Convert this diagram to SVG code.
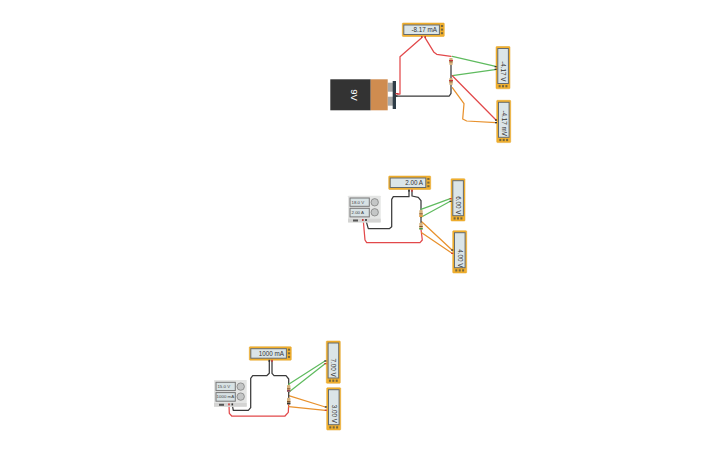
<svg xmlns="http://www.w3.org/2000/svg" width="725" height="453" viewBox="0 0 725 453">
<style>
.w{fill:none;stroke-width:1.25;stroke-linejoin:round;stroke-linecap:round}
.r{stroke:#e2484a}.k{stroke:#3a3a3a}.g{stroke:#5fbb5f}.o{stroke:#e8912d}
.case{fill:#f2b02e;stroke:#e0a024;stroke-width:.5}
.lcd{fill:#dbe5e8;stroke:#666c6e;stroke-width:1}
.btn{fill:#77683c}
.t{font-family:"Liberation Sans",Arial,sans-serif;font-size:6.3px;fill:#333}
.st{font-family:"Liberation Sans",Arial,sans-serif;font-size:4.4px;fill:#444}
.psu{fill:#e4e5e4}.psd{fill:#d8e2e4;stroke:#777;stroke-width:1}
.psb{fill:#d4d4d3}.knob{fill:#c4c6c6;stroke:#777;stroke-width:.7}
.res{fill:#d6b27c}
.tr{fill:#c8383a}.tk{fill:#333}
</style>
<defs>
<g id="mh"><rect class="case" x="0" y="0" width="42" height="13.5" rx=".8"/><rect class="lcd" x="1.5" y="2" width="35.6" height="9.5"/><rect class="btn" x="38.6" y="2" width="2.2" height="2"/><rect class="btn" x="38.6" y="5.6" width="2.2" height="2"/><rect class="btn" x="38.6" y="9.2" width="2.2" height="2"/></g>
<g id="mv"><rect class="case" x="0" y="0" width="14" height="42.3" rx=".8"/><rect class="lcd" x="1.8" y="2" width="10.6" height="35"/><rect class="btn" x="2.6" y="38.6" width="2" height="2.2"/><rect class="btn" x="6" y="38.6" width="2" height="2.2"/><rect class="btn" x="9.4" y="38.6" width="2" height="2.2"/></g>
<g id="psu"><rect class="psu" x="0" y="0" width="32.7" height="26.7" rx=".6"/><rect class="psb" x="0" y="23" width="32.7" height="3.7"/><rect class="psd" x="2" y="2.3" width="19.3" height="8.3"/><rect class="psd" x="2" y="12.6" width="19.3" height="8.6"/><circle class="knob" cx="26.7" cy="6.6" r="3.7"/><circle class="knob" cx="26.7" cy="16.6" r="3.7"/><rect x="5" y="23.8" width="5" height="2" fill="#555"/></g>
<g id="resistor"><rect class="res" x="-1.7" y="0" width="3.4" height="7" rx=".8"/><rect x="-1.7" y="3.4" width="3.4" height=".9" fill="#7a4a25"/></g>
</defs>

<g id="connectors">
<polyline class="w r" points="397.7,94 400,94 400,56.7 421.7,37.7"/>
<polyline class="w r" points="425,37.7 434,52.3 436.7,54.3 451,56.3"/>
<polyline class="w g" points="452.3,56.3 496.7,66.7"/>
<polyline class="w g" points="452.3,75.7 496.7,69.3"/>
<polyline class="w k" points="451,64.3 451,78"/>
<polyline class="w k" points="396,96 449.3,96 451,93.3 451,85"/>
<polyline class="w r" points="452.3,75.7 496,120"/>
<polyline class="w o" points="452.3,87.7 464,103.7 462.7,119 466.7,121 496,122.7"/>

<polyline class="w k" points="366,220.7 368.3,228.7 389.3,228.7 391.7,226.7 391.7,199.3 393.3,196.7 409,196.7 409,190.7"/>
<polyline class="w k" points="412,190.7 412,196 418.3,197.3 421,200.7 421,210"/>
<polyline class="w r" points="363.3,220.7 365,240 366.7,242.7 420,242.7 422.3,240 421,229.3"/>
<polyline class="w g" points="421,209.3 450.3,198.7"/>
<polyline class="w g" points="421,217.3 450.3,201.3"/>
<polyline class="w o" points="421.7,221.7 452,250"/>
<polyline class="w o" points="421.7,232.7 452,253.3"/>
<polyline class="w k" points="421,216.7 421,222.7"/>

<polyline class="w k" points="232.3,405 233.3,410.3 248.3,410.3 250.7,407.7 250.7,378.3 252.7,375.7 266.7,375.7 269.3,373.3 269.3,360.7"/>
<polyline class="w k" points="272,360.7 272,373.3 274,375.7 286,375.7 288.7,379 288.7,385"/>
<polyline class="w r" points="229,405 229.3,413.3 231.7,416 285,416 288.3,412.3 288.7,404.3"/>
<polyline class="w g" points="288.7,384.3 325,361"/>
<polyline class="w g" points="288.7,392.3 325,363.7"/>
<polyline class="w o" points="288.7,395.7 325.3,407"/>
<polyline class="w o" points="288.7,406.7 325.3,410.3"/>
<polyline class="w k" points="288.7,391.7 288.7,397.7"/>
</g>

<g id="battery">
<rect x="387.7" y="82.7" width="5.3" height="9" fill="#a9aaaa"/>
<rect x="387.7" y="96.7" width="5.3" height="9" fill="#a9aaaa"/>
<rect x="330.3" y="79.3" width="40.4" height="31" fill="#333333"/>
<rect x="370.7" y="79.3" width="17" height="31" fill="#cf8c50"/>
<rect x="392.7" y="81" width="3.3" height="28" fill="#2f3d48"/>
<text transform="translate(350.6 95) rotate(90)" text-anchor="middle" font-family="Liberation Sans, Arial, sans-serif" font-size="9.5" fill="#fff">9V</text>
<rect x="395.5" y="93" width="3" height="1.4" class="tr"/>
<rect x="395.5" y="95.3" width="2" height="1.4" class="tk"/>
</g>

<g id="ammeter1"><use href="#mh" x="402.3" y="23"/><text class="t" x="437" y="32.2" text-anchor="end">-8.17 mA</text><rect class="tr" x="421" y="36" width="1.6" height="2"/><rect class="tr" x="424.4" y="36" width="1.6" height="2"/></g>
<g id="voltmeter1"><use href="#mv" x="496" y="46.5"/><text class="t" text-anchor="end" transform="translate(501 81.5) rotate(90)">-4.17 V</text><rect class="tk" x="494.6" y="66" width="2" height="1.3"/><rect class="tk" x="494.6" y="68.7" width="2" height="1.3"/></g>
<g id="voltmeter2"><use href="#mv" x="496.7" y="100.3"/><text class="t" text-anchor="end" transform="translate(501.7 136) rotate(90)">-4.17 mV</text><rect class="tk" x="495" y="119.4" width="2" height="1.3"/><rect class="tk" x="495" y="122" width="2" height="1.3"/></g>
<g id="r1"><use href="#resistor" x="451" y="58"/><rect class="tr" x="449" y="60" width="4" height="1"/></g>
<g id="r2"><use href="#resistor" x="451" y="78"/><rect class="tr" x="449" y="80" width="4" height="1"/></g>

<g id="supply2"><use href="#psu" x="348" y="195.7"/><text class="st" x="351.5" y="203.8">18.0 V</text><text class="st" x="351.5" y="214.2">2.00 A</text><rect class="tr" x="362" y="219" width="1.6" height="2"/><rect class="tk" x="365.2" y="219" width="1.6" height="2"/></g>
<g id="ammeter2"><use href="#mh" x="388.7" y="176"/><text class="t" x="423" y="185.4" text-anchor="end">2.00 A</text><rect class="tk" x="408.2" y="189.6" width="1.6" height="2"/><rect class="tr" x="411.2" y="189.6" width="1.6" height="2"/></g>
<g id="voltmeter3"><use href="#mv" x="451" y="178.7"/><text class="t" text-anchor="end" transform="translate(456 214.4) rotate(90)">6.00 V</text><rect class="tr" x="449.6" y="198" width="2" height="1.3"/><rect class="tk" x="449.6" y="200.7" width="2" height="1.3"/></g>
<g id="voltmeter4"><use href="#mv" x="452.7" y="230.7"/><text class="t" text-anchor="end" transform="translate(457.7 267.4) rotate(90)">4.00 V</text><rect class="tk" x="451.2" y="249.4" width="2" height="1.3"/><rect class="tr" x="451.2" y="252.7" width="2" height="1.3"/></g>
<g id="r3"><use href="#resistor" x="421" y="210"/><rect x="419.3" y="215.4" width="3.4" height="1.4" fill="#e8912d"/></g>
<g id="r4"><use href="#resistor" x="421" y="222.7"/><rect x="419.3" y="228" width="3.4" height="1.4" fill="#3f9a4a"/></g>

<g id="supply3"><use href="#psu" x="214" y="380"/><text class="st" x="217.4" y="388">15.0 V</text><text class="st" x="216.6" y="398.4">1000 mA</text><rect class="tr" x="228.2" y="403.4" width="1.6" height="2"/><rect class="tk" x="231.5" y="403.4" width="1.6" height="2"/></g>
<g id="ammeter3"><use href="#mh" x="249.3" y="346.7"/><text class="t" x="284" y="356" text-anchor="end">1000 mA</text><rect class="tk" x="268.5" y="359.8" width="1.6" height="2"/><rect class="tr" x="271.2" y="359.8" width="1.6" height="2"/></g>
<g id="voltmeter5"><use href="#mv" x="326.3" y="341"/><text class="t" text-anchor="end" transform="translate(331.3 376.8) rotate(90)">7.00 V</text><rect class="tk" x="324.4" y="360.3" width="2" height="1.3"/><rect class="tr" x="324.4" y="363" width="2" height="1.3"/></g>
<g id="voltmeter6"><use href="#mv" x="326.7" y="387.7"/><text class="t" text-anchor="end" transform="translate(331.7 423) rotate(90)">3.00 V</text><rect class="tk" x="324.8" y="406.3" width="2" height="1.3"/><rect class="tr" x="324.8" y="409.6" width="2" height="1.3"/></g>
<g id="r5"><use href="#resistor" x="288.7" y="385"/><rect x="287" y="390" width="3.4" height="1.7" fill="#8a4a60"/></g>
<g id="r6"><use href="#resistor" x="288.7" y="397.7"/><rect x="287" y="402.6" width="3.4" height="1.7" fill="#333"/></g>
</svg>
